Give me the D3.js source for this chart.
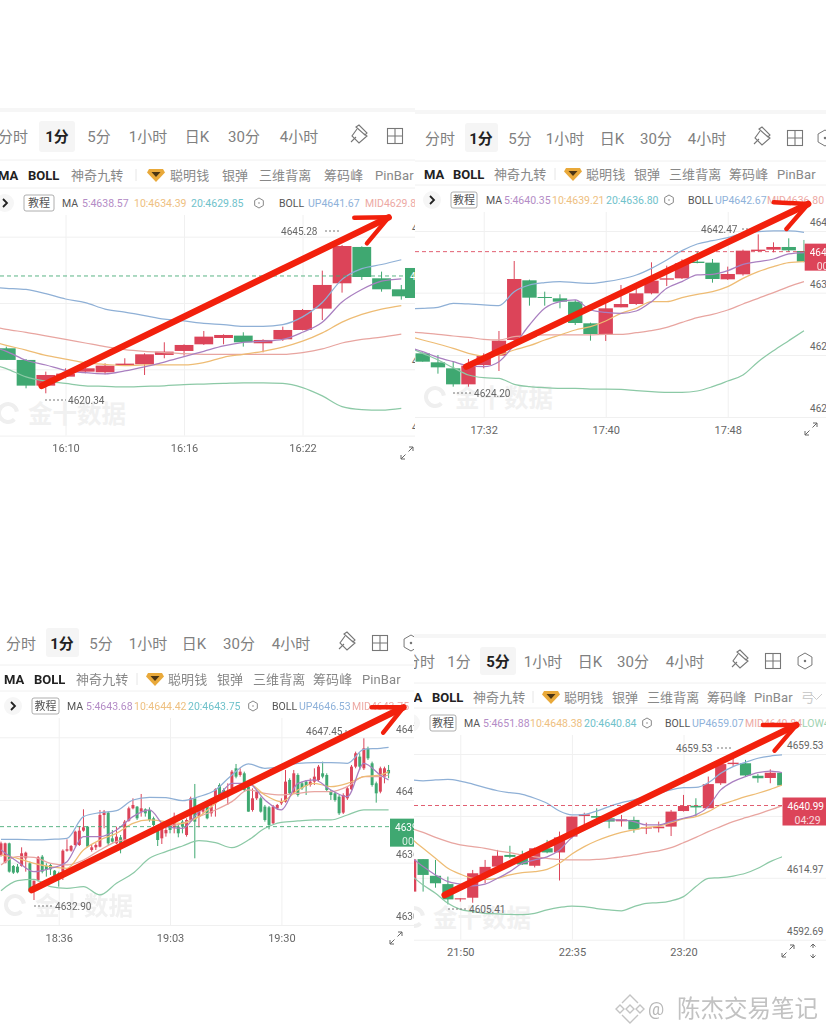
<!DOCTYPE html>
<html>
<head>
<meta charset="utf-8">
<title>K线截图拼图</title>
<style>
  html, body { margin: 0; padding: 0; background: #fff; }
  svg { display: block; filter: blur(0.35px); }
  text { font-family: Roboto, "Noto Sans CJK SC", sans-serif; }
  .grid line { stroke: #f0f0f0; stroke-width: 1; }
  .grid path, .lab path, .lab line { display: none; }
  .lab text { fill: #666; font-size: 11px; }
</style>
</head>
<body>
<svg id="chart" width="826" height="1034"></svg>
<script src="https://d3js.org/d3.v7.min.js"></script>
<script>
// ---- panel 1, 1 min, 16:xx ----
const p1Candles = [
  [4627.91,4628.19,4625.95,4625.95],[4625.95,4626.11,4621.18,4621.63],[4621.63,4623.98,4620.34,4623.42],
  [4623.14,4624.54,4622.86,4623.65],[4623.98,4625.78,4623.70,4624.54],[4623.87,4625.38,4623.53,4624.99],
  [4625.05,4626.23,4624.94,4625.33],[4625.22,4627.07,4623.42,4626.90],[4626.79,4628.92,4626.23,4627.35],
  [4627.46,4628.58,4626.67,4628.47],[4628.58,4630.82,4628.47,4629.87],[4629.64,4630.26,4628.58,4630.15],
  [4630.04,4630.60,4628.19,4628.92],[4628.75,4629.42,4627.23,4629.31],[4629.42,4631.55,4629.14,4630.99],
  [4630.99,4634.52,4630.93,4634.35],[4634.58,4640.97,4632.67,4638.56],[4638.84,4645.28,4637.27,4645.11],
  [4644.95,4645.06,4639.40,4639.90],[4639.68,4640.80,4637.43,4637.83],[4637.83,4638.56,4636.09,4636.65]
];
const p1LineIdx = d3.range(-1, 21);
const p1Up = [4638.2,4638.0,4637.8,4637.1,4636.2,4635.6,4634.5,4634.0,4633.4,4632.8,4632.5,4632.1,4631.9,4631.6,4631.6,4631.9,4633.2,4635.6,4639.5,4641.3,4642.0,4642.8];
const p1Mid = [4631.8,4631.1,4630.6,4630.0,4629.4,4628.8,4628.2,4627.7,4627.4,4627.2,4627.0,4626.9,4626.9,4626.9,4626.9,4626.9,4627.2,4627.8,4628.8,4629.4,4629.8,4630.3];
const p1Low = [4625.4,4624.5,4623.1,4622.4,4622.0,4621.6,4621.5,4621.4,4621.5,4621.6,4621.8,4621.9,4622.0,4622.1,4622.1,4622.0,4621.3,4619.9,4618.1,4617.6,4617.5,4617.8];
const p1Ma10 = [4629.3,4628.4,4627.6,4626.7,4626.1,4625.5,4625.2,4625.0,4625.1,4625.1,4625.1,4625.5,4626.4,4626.9,4627.4,4628.1,4629.1,4630.5,4632.3,4633.6,4634.5,4635.1];
const p1Ma5 = [4628.4,4627.4,4625.9,4625.1,4624.2,4623.8,4623.6,4624.1,4624.8,4625.6,4626.5,4627.4,4628.3,4628.9,4629.1,4629.4,4630.6,4632.3,4635.7,4637.8,4639.2,4639.6];
const p1Ticks = [4646.68, 4635.53, 4624.38, 4613.23];
const p1TimeIdx = [3, 9, 15];
const p1Times = ['16:10', '16:16', '16:22'];
const p1Legend = ['5:4638.57', '10:4634.39', '20:4629.85', 'UP4641.67', 'MID4629.85'];
const p1Arrow = [[1.79, 4621.6], [19.36, 4649.93], [17.62, 4649.88], [18.26, 4645.56]];
const p1Last = 4640.07;

// ---- panel 2, 1 min, 17:xx ----
const p2Candles = [
  [4628.2,4628.32,4627.2,4627.2],[4627.12,4628.0,4625.76,4626.52],[4626.4,4627.2,4624.2,4624.48],
  [4624.48,4627.52,4624.2,4626.72],[4626.8,4628.2,4626.4,4627.92],[4627.92,4630.88,4626.08,4629.72],
  [4629.8,4639.28,4629.6,4637.12],[4636.96,4637.04,4633.92,4634.88],[4634.96,4635.6,4633.92,4634.88],
  [4634.8,4635.28,4633.6,4634.4],[4634.4,4634.6,4631.6,4631.84],[4631.8,4631.88,4629.72,4630.52],
  [4630.48,4634.4,4629.68,4633.6],[4633.72,4636.4,4633.72,4634.12],[4634.12,4636.2,4634.0,4635.4],
  [4635.4,4639.12,4635.28,4636.92],[4637.04,4638.72,4636.28,4637.2],[4637.2,4639.48,4637.12,4639.0],
  [4639.2,4640.4,4639.0,4639.04],[4639.08,4639.52,4636.68,4637.12],[4637.08,4638.6,4637.0,4637.72],
  [4637.68,4640.64,4637.52,4640.52],[4640.48,4642.47,4640.4,4640.64],[4640.64,4641.52,4640.32,4640.96],
  [4640.96,4642.0,4640.4,4640.56],[4640.48,4641.8,4639.12,4639.2]
];
const p2LineIdx = d3.range(-1, 26);
const p2Up = [4633.5,4633.6,4633.72,4634.2,4634.12,4634.0,4633.92,4635.6,4636.4,4636.68,4636.8,4636.68,4636.6,4636.8,4637.12,4637.6,4638.4,4639.4,4640.52,4641.32,4641.72,4642.08,4642.6,4642.8,4642.88,4642.88,4642.72];
const p2Mid = [4630.8,4630.64,4630.48,4630.28,4630.12,4629.88,4629.8,4630.2,4630.32,4630.4,4630.4,4630.4,4630.4,4630.48,4630.48,4630.68,4630.92,4631.32,4631.92,4632.48,4632.88,4633.4,4634.12,4634.8,4635.48,4636.2,4636.8];
const p2Low = [4629.0,4628.2,4627.4,4626.48,4625.6,4625.28,4625.2,4624.48,4624.2,4624.08,4624.0,4624.0,4623.92,4623.92,4623.88,4623.72,4623.6,4623.52,4623.52,4623.68,4624.2,4624.88,4625.6,4627.2,4628.52,4629.72,4630.92];
const p2Ma10 = [4630.3,4629.8,4629.32,4628.8,4628.2,4627.88,4628.0,4628.6,4629.12,4629.8,4630.4,4631.0,4631.4,4632.08,4633.0,4633.6,4634.4,4634.4,4634.88,4635.28,4635.6,4636.2,4637.2,4638.0,4638.6,4639.08,4639.2];
const p2Ma5 = [4629.0,4628.4,4627.72,4627.2,4626.72,4626.6,4627.2,4629.2,4631.6,4633.6,4634.4,4634.6,4633.4,4633.12,4633.0,4633.28,4634.4,4636.0,4636.8,4637.6,4637.68,4638.12,4638.88,4639.2,4639.52,4640.12,4640.28];
const p2Ticks = [4642.88, 4635.48, 4628.00, 4620.56];
const p2TimeIdx = [4, 12, 20];
const p2Times = ['17:32', '17:40', '17:48'];
const p2Legend = ['5:4640.35', '10:4639.21', '20:4636.80', 'UP4642.67', 'MID4636.80'];
const p2Arrow = [[2.86, 4626.6], [25.27, 4646.12], [23.02, 4646.32], [23.85, 4643.12]];
const p2Last = 4640.4;

// ---- panel 3, 1 min, 18:xx-19:xx ----
const p3Candles = [
  [4636.95,4638.15,4636.8,4638.0],[4636.26,4638.06,4636.2,4638.0],[4638.0,4638.06,4635.36,4635.45],[4635.96,4636.05,4635.24,4635.36],
  [4635.9,4636.14,4635.3,4635.39],[4635.96,4637.64,4635.9,4637.1],[4636.65,4637.25,4635.45,4637.16],[4636.2,4636.35,4633.65,4633.65],
  [4633.74,4634.64,4632.9,4634.64],[4634.7,4636.86,4634.55,4636.74],[4636.8,4636.95,4635.3,4635.45],[4635.96,4636.2,4635.0,4635.6],
  [4636.05,4636.14,4635.15,4635.66],[4635.54,4635.6,4634.7,4635.0],[4635.3,4635.45,4634.1,4634.85],[4635.45,4637.46,4634.7,4637.34],
  [4637.34,4638.36,4637.25,4637.46],[4637.34,4637.85,4637.25,4637.76],[4637.85,4639.14,4637.7,4639.05],[4637.85,4639.56,4637.76,4639.14],
  [4639.14,4641.06,4639.05,4639.44],[4639.5,4639.56,4637.64,4637.7],[4637.4,4637.85,4637.25,4637.64],[4637.64,4638.0,4637.4,4637.85],
  [4637.7,4641.0,4637.64,4640.55],[4640.55,4641.0,4639.35,4640.85],[4640.76,4640.85,4637.85,4638.0],[4638.45,4639.2,4638.06,4638.15],
  [4638.0,4639.5,4637.94,4638.6],[4638.54,4638.75,4637.1,4637.94],[4638.3,4640.1,4638.15,4639.95],[4640.04,4641.3,4639.95,4641.15],
  [4641.15,4642.05,4641.06,4641.45],[4641.3,4641.36,4640.1,4640.25],[4640.85,4642.44,4640.4,4641.15],[4641.06,4641.15,4640.4,4640.7],
  [4641.0,4641.24,4639.95,4640.1],[4640.25,4640.4,4639.5,4639.65],[4639.35,4639.5,4637.76,4638.3],[4638.45,4639.5,4637.94,4639.35],
  [4638.9,4639.65,4638.6,4639.2],[4639.65,4639.8,4638.9,4639.2],[4639.44,4640.76,4638.9,4640.4],[4639.5,4639.65,4638.54,4638.9],
  [4639.95,4640.1,4638.9,4639.5],[4638.75,4640.25,4638.6,4640.1],[4640.1,4642.2,4639.95,4642.05],[4642.05,4643.34,4636.65,4639.95],
  [4640.4,4641.45,4639.44,4641.24],[4640.85,4641.6,4640.64,4641.45],[4641.45,4641.6,4640.16,4640.25],[4640.7,4641.45,4640.4,4641.3],
  [4641.6,4642.95,4640.4,4642.86],[4643.25,4643.4,4642.05,4642.2],[4642.8,4642.95,4642.35,4642.5],[4642.2,4643.4,4641.45,4642.65],
  [4642.95,4644.6,4642.8,4644.45],[4644.75,4645.14,4643.85,4644.0],[4644.15,4644.75,4644.0,4644.45],[4644.3,4644.45,4642.65,4642.8],
  [4643.1,4643.25,4640.85,4640.85],[4641.0,4642.95,4640.85,4642.05],[4642.05,4642.8,4641.9,4642.65],[4642.05,4642.2,4640.76,4640.85],
  [4641.3,4641.45,4639.95,4640.1],[4641.24,4641.36,4639.26,4639.65],[4639.8,4641.45,4639.74,4641.3],[4641.15,4641.54,4641.0,4641.45],
  [4641.6,4642.05,4641.45,4641.75],[4641.75,4644.6,4641.66,4643.55],[4643.7,4643.85,4642.35,4642.5],[4642.56,4644.6,4642.5,4644.3],
  [4644.15,4644.3,4642.2,4642.35],[4643.4,4643.55,4642.8,4642.95],[4643.55,4643.7,4642.35,4643.16],[4643.25,4643.85,4643.1,4643.55],
  [4643.55,4644.75,4643.25,4644.0],[4643.7,4645.05,4643.55,4644.9],[4644.3,4645.35,4643.85,4644.0],[4644.15,4644.3,4642.65,4642.8],
  [4642.65,4642.8,4641.9,4642.35],[4642.5,4642.65,4641.75,4641.9],[4642.2,4642.35,4640.55,4640.7],[4640.76,4642.5,4640.64,4642.35],
  [4642.05,4643.1,4641.9,4642.95],[4642.86,4645.05,4642.8,4644.9],[4644.9,4646.25,4644.75,4646.1],[4645.8,4646.1,4644.6,4644.9],
  [4644.75,4647.45,4644.6,4646.55],[4646.55,4646.7,4645.5,4645.65],[4645.2,4645.35,4643.1,4643.25],[4643.4,4643.55,4641.66,4642.5],
  [4642.65,4644.9,4642.5,4644.75],[4644.0,4644.9,4643.4,4644.75],[4644.6,4645.05,4643.85,4644.3]
];
const p3LineIdx = [0,4,8,12,16,20,24,28,32,36,40,44,48,52,56,60,64,68,72,76,80,84,88,92,94];
const p3Up = [4638.36,4638.36,4638.3,4638.36,4638.45,4640.4,4640.76,4640.94,4641.9,4642.14,4642.11,4641.84,4642.2,4642.8,4644.15,4645.14,4644.75,4644.9,4645.2,4645.26,4645.26,4645.2,4646.46,4646.55,4646.64];
const p3Mid = [4636.05,4636.8,4636.74,4636.2,4636.05,4636.5,4637.4,4638.15,4638.45,4639.2,4639.5,4639.8,4640.4,4641.0,4641.75,4642.8,4642.5,4642.35,4642.5,4642.65,4642.65,4643.1,4644.0,4644.0,4644.15];
const p3Low = [4633.74,4634.64,4634.76,4634.1,4633.95,4634.1,4633.35,4634.4,4635.3,4636.65,4637.25,4637.76,4638.24,4638.06,4637.61,4638.3,4639.35,4639.89,4640.01,4640.1,4640.1,4640.55,4641.0,4641.0,4641.0];
const p3Ma10 = [4636.95,4636.65,4636.2,4635.9,4635.75,4637.4,4638.3,4638.9,4639.8,4640.1,4639.95,4639.8,4640.4,4641.6,4642.8,4643.4,4642.35,4641.75,4642.8,4643.4,4643.1,4643.4,4644.0,4644.15,4644.45];
const p3Ma5 = [4637.4,4636.35,4635.45,4635.75,4636.35,4638.6,4638.6,4639.2,4640.4,4641.0,4639.5,4639.35,4640.85,4641.9,4643.4,4643.4,4641.9,4641.0,4643.4,4643.7,4642.8,4642.2,4645.2,4644.15,4643.7];
const p3Ticks = [4647.54, 4641.90, 4636.26, 4630.65];
const p3TimeIdx = [14, 41, 68];
const p3Times = ['18:36', '19:03', '19:30'];
const p3Legend = ['5:4643.68', '10:4644.42', '20:4643.75', 'UP4646.53', 'MID4643.75'];
const p3Arrow = [[7.44, 4633.8], [97.6, 4650.24], [89.9, 4650.24], [92.7, 4647.96]];
const p3Last = 4639.5;

// ---- panel 4, 5 min, 21:50-23:20 ----
const p4Candles = [
  [4610.0,4622.5,4609.4,4621.6],[4621.7,4621.7,4610.0,4616.0],[4615.7,4621.4,4611.4,4613.0],[4612.7,4615.4,4605.41,4607.2],
  [4607.2,4607.6,4606.4,4607.6],[4607.8,4617.8,4606.0,4616.6],[4616.2,4621.4,4613.0,4618.9],[4619.0,4625.0,4618.7,4622.9],
  [4623.2,4626.5,4622.0,4622.5],[4622.5,4624.7,4619.6,4619.8],[4619.3,4625.9,4618.7,4625.6],[4625.6,4628.6,4623.8,4624.1],
  [4624.1,4631.6,4614.0,4629.5],[4629.8,4637.0,4629.2,4637.0],[4637.2,4638.4,4633.4,4637.8],[4637.2,4640.0,4635.2,4636.6],
  [4636.4,4637.6,4632.8,4635.2],[4635.3,4637.6,4633.4,4636.0],[4635.8,4637.0,4631.2,4632.4],[4632.7,4634.8,4630.7,4633.1],
  [4632.8,4635.2,4631.3,4633.4],[4633.4,4639.4,4630.0,4638.8],[4639.0,4644.8,4638.8,4640.8],[4640.9,4643.6,4637.0,4640.3],
  [4640.0,4651.4,4640.0,4648.7],[4649.0,4658.0,4648.4,4655.9],[4655.9,4659.53,4655.0,4656.4],[4656.2,4657.4,4651.6,4651.8],
  [4651.7,4652.3,4649.2,4650.8],[4650.9,4654.0,4649.0,4652.8],[4652.8,4653.2,4648.0,4648.2]
];
const p4LineIdx = d3.range(0, 31);
const p4Up = [4650.2,4649.9,4650.2,4650.4,4649.8,4648.7,4647.4,4646.3,4645.6,4645.0,4643.6,4641.8,4639.0,4637.6,4637.8,4639.0,4640.6,4642.0,4643.0,4644.2,4645.4,4646.6,4647.4,4647.5,4649.2,4652.6,4655.0,4656.5,4658.0,4658.8,4659.2];
const p4Mid = [4632.8,4631.3,4629.5,4628.0,4626.8,4626.2,4625.6,4624.7,4624.0,4623.2,4622.5,4622.0,4621.6,4621.4,4621.4,4621.6,4622.0,4622.5,4623.2,4624.0,4624.7,4625.8,4627.6,4629.5,4631.6,4633.4,4635.2,4636.6,4637.9,4639.4,4641.0];
const p4Low = [4616.0,4612.4,4609.4,4605.8,4603.6,4602.8,4602.2,4602.0,4601.8,4601.7,4602.2,4603.4,4604.3,4604.8,4604.6,4603.9,4603.4,4603.1,4604.6,4605.8,4606.0,4606.7,4608.2,4611.8,4614.8,4615.0,4615.6,4616.6,4618.4,4620.8,4622.6];
const p4Ma10 = [4629.2,4625.6,4622.0,4618.4,4616.3,4614.8,4614.4,4614.8,4616.0,4616.8,4617.2,4618.0,4620.2,4623.5,4626.2,4628.3,4630.0,4631.3,4632.2,4633.1,4633.6,4634.8,4636.2,4637.0,4638.8,4641.2,4642.7,4644.2,4645.4,4646.8,4648.4];
const p4Ma5 = [4622.5,4619.0,4616.0,4613.6,4612.7,4612.1,4612.7,4614.8,4617.2,4620.2,4621.4,4622.5,4625.0,4629.5,4632.2,4634.3,4635.8,4635.8,4635.2,4634.0,4634.0,4635.2,4636.4,4637.6,4640.6,4646.6,4649.6,4651.4,4652.8,4653.4,4652.8];
const p4Ticks = [4659.53, 4637.25, 4614.97, 4592.69];
const p4TimeIdx = [4, 13, 22];
const p4Times = ['21:50', '22:35', '23:20'];
const p4Legend = ['5:4651.88', '10:4648.38', '20:4640.84', 'UP4659.07', 'MID4640.84', 'LOW4622.61'];
const p4Arrow = [[2.74, 4608.77], [31.1, 4669.97], [28.4, 4669.97], [29.35, 4660.73]];
const p4Last = 4640.99;

const tabNames = ['分时', '1分', '5分', '1小时', '日K', '30分', '4小时'];
const indicatorNames = ['MA', 'BOLL', '神奇九转', '聪明钱', '银弹', '三维背离', '筹码峰', 'PinBar'];

const RED = '#dc4459', GREEN = '#3fa871';
const lineColors = { up: '#8fb0d6', mid: '#e8a5a0', low: '#8cc9a6', ma10: '#eebc74', ma5: '#a97fc0' };
const legendColors = ['#b48cc6', '#eec081', '#70c2cb', '#8fb2da', '#eda9a4', '#9fd3b2'];

// layout only, everything in px
const panels = [
  { candles: p1Candles, lineIdx: p1LineIdx, up: p1Up, mid: p1Mid, low: p1Low, ma10: p1Ma10, ma5: p1Ma5,
    ticks: p1Ticks, timeIdx: p1TimeIdx, times: p1Times, legend: p1Legend, arrow: p1Arrow, last: p1Last,
    clipX: [0, 415], plotRight: 415, band: 108, bandH: 4,
    x: [[0, 6.3], [20, 401.3]], y: [[4620.34, 393.3], [4645.28, 245]], bodyRatio: 0.95,
    tabY: 136, activeTab: 1, tabBox: [39, 121, 36, 31], tabX: [13, 57, 99, 148, 197, 244, 299], icons: [359, 395],
    sep1: 160, indY: 175, indX: [-2, 28, 71, 170, 222, 259, 324, 375], indSep: 136, diamond: 156, sep2: 188,
    legY: 203, circle: 5, box: [24, 54], legX: [62, 82, 134, 191, 259, 279, 308, 365],
    chartTop: 215, labelX: 412, labelDy: -8,
    wm: [28, 423], logo: 8, hiNote: ['4645.28', 281, 231, 325, 340], loNote: ['4620.34', 68, 400, 45, 66],
    box2: { color: GREEN, x: 405, h: 30, text: ['4640.07', '00:31'] }, dash: GREEN, expand: [407, 453] },
  { candles: p2Candles, lineIdx: p2LineIdx, up: p2Up, mid: p2Mid, low: p2Low, ma10: p2Ma10, ma5: p2Ma5,
    ticks: p2Ticks, timeIdx: p2TimeIdx, times: p2Times, legend: p2Legend, arrow: p2Arrow, last: p2Last,
    clipX: [415, 826], plotRight: 804.7, band: 110, bandH: 4,
    x: [[0, 422.7], [25, 804]], y: [[4624.2, 386.67], [4642.47, 234.4]], bodyRatio: 0.94,
    tabY: 138, activeTab: 1, tabBox: [465, 123, 33, 29], tabX: [440, 481, 520, 565, 612, 656, 707], icons: [762, 795, 825],
    sep1: 161, indY: 174, indX: [424, 453, 494, 586, 634, 669, 729, 777], indSep: 555, diamond: 573, sep2: 185,
    legY: 200, circle: 432, box: [451, 477], legX: [486, 504, 552, 606, 669, 688, 715, 767],
    chartTop: 212, labelX: 810, labelDy: -8,
    wm: [455, 407], logo: 435, hiNote: ['4642.47', 701, 229, 742, 752], loNote: ['4624.20', 474, 393, 453, 473],
    box2: { color: RED, x: 804.7, h: 27, text: ['4640.40', '00:11'] }, dash: RED, expand: [811, 429] },
  { candles: p3Candles, lineIdx: p3LineIdx, up: p3Up, mid: p3Mid, low: p3Low, ma10: p3Ma10, ma5: p3Ma5,
    ticks: p3Ticks, timeIdx: p3TimeIdx, times: p3Times, legend: p3Legend, arrow: p3Arrow, last: p3Last,
    clipX: [0, 414], plotRight: 390.5, band: null,
    x: [[0, 1], [94, 388.6]], y: [[4632.9, 900], [4647.45, 738.3]], bodyRatio: 0.72,
    tabY: 643, activeTab: 1, tabBox: [46, 628, 33, 29], tabX: [21, 62, 101, 148, 194, 239, 291], icons: [347, 380, 411],
    sep1: 665, indY: 679, indX: [4, 34, 76, 168, 217, 253, 313, 362], indSep: 137, diamond: 155, sep2: 691,
    legY: 706, circle: 13, box: [32, 59], legX: [67, 86, 134, 188, 253, 272, 299, 352],
    chartTop: 718, labelX: 396, labelDy: -8,
    wm: [35, 915], logo: 15, hiNote: ['4647.45', 306, 731, 345, 352], loNote: ['4632.90', 55, 906, 34, 53],
    box2: { color: GREEN, x: 390, h: 28, text: ['4639.50', '00:18'] }, dash: GREEN, expand: [396, 938] },
  { candles: p4Candles, lineIdx: p4LineIdx, up: p4Up, mid: p4Mid, low: p4Low, ma10: p4Ma10, ma5: p4Ma5,
    ticks: p4Ticks, timeIdx: p4TimeIdx, times: p4Times, legend: p4Legend, arrow: p4Arrow, last: p4Last,
    clipX: [414, 826], plotRight: 782, band: 634, bandH: 4,
    x: [[0, 410.7], [30, 782.7]], y: [[4592.69, 939.7], [4659.53, 754]], bodyRatio: 0.9,
    tabY: 661, activeTab: 2, tabBox: [480, 647, 36, 28], tabX: [420, 459, 498, 543, 590, 633, 685], icons: [740, 773, 805],
    sep1: 683, indY: 697, indX: [402, 432, 473, 564, 612, 647, 707, 754], indSep: 533, diamond: 551, sep2: 708,
    legY: 723, circle: 411, box: [430, 456], legX: [464, 483, 530, 584, 647, 665, 692, 745, 802],
    chartTop: 735, labelX: 787, labelDy: -8, showTickIdx: [0, 2, 3],
    wm: [433, 927], logo: 414, hiNote: ['4659.53', 676, 748, 717, 732], loNote: ['4605.41', 469, 909, 448, 468],
    box2: { color: RED, x: 782.5, h: 28, text: ['4640.99', '04:29'], full: true }, dash: RED, expand: [788, 951], updown: 813 }
];

const svg = d3.select('#chart');
const defs = svg.append('defs');
const PRICE_W = 36.5;

function hammerIcon(g, cx, cy) {
  const s = g.append('g').attr('transform', `translate(${cx},${cy})`).attr('fill', 'none').attr('stroke', '#777').attr('stroke-width', 1.1);
  s.append('path').attr('d', 'M-3,-9 L0,-11 L8,-3 L6,-1 Z');
  s.append('path').attr('d', 'M-2,-7 L-7,0 L0,7 L8,0 L5,-2');
  s.append('path').attr('d', 'M-8,6 L-3,1');
}
function gridIcon(g, cx, cy) {
  const s = g.append('g').attr('transform', `translate(${cx},${cy})`).attr('fill', 'none').attr('stroke', '#777').attr('stroke-width', 1.1);
  s.append('rect').attr('x', -7.5).attr('y', -7.5).attr('width', 15).attr('height', 15);
  s.append('path').attr('d', 'M0,-7.5V7.5M-7.5,0H7.5');
}
function hexIcon(g, cx, cy, r, col) {
  const pts = d3.range(6).map(i => {
    const a = Math.PI / 3 * i - Math.PI / 2;
    return [cx + r * Math.cos(a), cy + r * Math.sin(a)];
  });
  g.append('polygon').attr('points', pts.join(' ')).attr('fill', 'none').attr('stroke', col).attr('stroke-width', 1);
  g.append('circle').attr('cx', cx).attr('cy', cy).attr('r', r * 0.16).attr('fill', col);
}
function expandIcon(g, cx, cy) {
  g.append('path').attr('fill', 'none').attr('stroke', '#666').attr('stroke-width', 1)
    .attr('d', `M${cx - 6},${cy + 6}L${cx - 1.5},${cy + 1.5}M${cx - 6},${cy + 2}V${cy + 6}H${cx - 2}M${cx + 6},${cy - 6}L${cx + 1.5},${cy - 1.5}M${cx + 2},${cy - 6}H${cx + 6}V${cy - 2}`);
}
// prices in the app are drawn a bit narrower than Roboto
function priceText(g, px, py, str, col, size) {
  return g.append('text').attr('x', px).attr('y', py).attr('font-size', size || 11).attr('fill', col)
    .attr('textLength', PRICE_W).attr('lengthAdjust', 'spacingAndGlyphs').text(str);
}

panels.forEach((p, pi) => {
  const clipId = 'clip' + pi, plotId = 'plot' + pi;
  const [cl, cr] = p.clipX;
  defs.append('clipPath').attr('id', clipId).append('rect').attr('x', cl).attr('y', 0).attr('width', cr - cl).attr('height', 1034);
  defs.append('clipPath').attr('id', plotId).append('rect').attr('x', cl).attr('y', 0).attr('width', p.plotRight - cl).attr('height', 1034);

  const root = svg.append('g').attr('clip-path', `url(#${clipId})`);
  root.append('rect').attr('x', cl).attr('y', p.tabBox[1] - 16).attr('width', cr - cl).attr('height', 350).attr('fill', '#fff');
  if (p.band) root.append('rect').attr('x', cl).attr('y', p.band).attr('width', cr - cl).attr('height', p.bandH).attr('fill', '#f6f6f6');

  // tab row
  root.append('rect').attr('x', p.tabBox[0]).attr('y', p.tabBox[1]).attr('width', p.tabBox[2]).attr('height', p.tabBox[3]).attr('rx', 3).attr('fill', '#f5f5f5');
  root.selectAll('.tab').data(tabNames).join('text')
    .attr('x', (d, i) => p.tabX[i]).attr('y', p.tabY + 5.5).attr('text-anchor', 'middle')
    .attr('font-size', 15).attr('font-weight', (d, i) => i === p.activeTab ? 700 : 400)
    .attr('fill', (d, i) => i === p.activeTab ? '#222' : '#808080').text(d => d);
  hammerIcon(root, p.icons[0], p.tabY);
  gridIcon(root, p.icons[1], p.tabY);
  if (p.icons[2]) hexIcon(root, p.icons[2], p.tabY, 8, '#777');
  root.append('line').attr('x1', cl).attr('x2', cr).attr('y1', p.sep1).attr('y2', p.sep1).attr('stroke', '#f0f0f0');

  // indicator row
  root.selectAll('.ind').data(indicatorNames).join('text')
    .attr('x', (d, i) => p.indX[i]).attr('y', p.indY + 4.5)
    .attr('font-size', 13).attr('font-weight', (d, i) => i < 2 ? 700 : 400)
    .attr('fill', (d, i) => i < 2 ? '#222' : '#888').attr('letter-spacing', (d, i) => i < 2 ? 0 : 0.1).text(d => d);
  root.append('line').attr('x1', p.indSep).attr('x2', p.indSep).attr('y1', p.indY - 6).attr('y2', p.indY + 6).attr('stroke', '#e6e6e6');
  root.append('path').attr('fill', '#e9a93a').attr('d', `M${p.diamond - 7},${p.indY - 6}h14l2,3.5l-9,9.5l-9,-9.5z`);
  root.append('path').attr('fill', '#4b3514').attr('d', `M${p.diamond - 4.5},${p.indY - 3}h9l-4.5,5z`);
  root.append('line').attr('x1', cl).attr('x2', cr).attr('y1', p.sep2).attr('y2', p.sep2).attr('stroke', '#f0f0f0');
  if (p.updown) {
    root.append('text').attr('x', 801).attr('y', p.indY + 4.5).attr('font-size', 13).attr('fill', '#ccc').text('弓');
    root.append('path').attr('fill', 'none').attr('stroke', '#ccc').attr('d', `M811,${p.indY - 3}l5.5,5.5l5.5,-5.5`);
  }

  // legend row
  root.append('circle').attr('cx', p.circle).attr('cy', p.legY).attr('r', 9).attr('fill', '#f6f6f6');
  root.append('path').attr('fill', 'none').attr('stroke', '#222').attr('stroke-width', 1.8).attr('d', `M${p.circle - 2},${p.legY - 4}l4,4l-4,4`);
  root.append('rect').attr('x', p.box[0]).attr('y', p.legY - 8).attr('width', p.box[1] - p.box[0]).attr('height', 16).attr('rx', 2)
    .attr('fill', '#fff').attr('stroke', '#999').attr('stroke-width', 0.8);
  root.append('text').attr('x', (p.box[0] + p.box[1]) / 2).attr('y', p.legY + 4).attr('text-anchor', 'middle').attr('font-size', 11).attr('fill', '#555').text('教程');
  const lx = p.legX;
  root.append('text').attr('x', lx[0]).attr('y', p.legY + 3.7).attr('font-size', 10.5).attr('fill', '#555').text('MA');
  root.append('text').attr('x', lx[5]).attr('y', p.legY + 3.7).attr('font-size', 10.5).attr('fill', '#555').text('BOLL');
  hexIcon(root, lx[4], p.legY, 5, '#888');
  const legPos = [lx[1], lx[2], lx[3], lx[6], lx[7], lx[8]];
  root.selectAll('.leg').data(p.legend).join('text')
    .attr('x', (d, i) => legPos[i]).attr('y', p.legY + 3.7).attr('font-size', 10.5)
    .attr('fill', (d, i) => legendColors[i]).text(d => d);

  // scales
  const x = d3.scaleLinear().domain([p.x[0][0], p.x[1][0]]).range([p.x[0][1], p.x[1][1]]);
  const y = d3.scaleLinear().domain([p.y[0][0], p.y[1][0]]).range([p.y[0][1], p.y[1][1]]);
  const bottom = y(p.ticks[3]);

  // grid through axes
  root.append('g').attr('class', 'grid').attr('transform', `translate(${cr},0)`)
    .call(d3.axisLeft(y).tickValues(p.ticks).tickSize(cr - cl).tickFormat(''));
  root.append('g').attr('class', 'grid').attr('transform', `translate(0,${bottom})`)
    .call(d3.axisBottom(x).tickValues(p.timeIdx).tickSize(-(bottom - p.chartTop)).tickFormat(''));

  // watermark
  root.append('text').attr('x', p.wm[0]).attr('y', p.wm[1]).attr('font-size', 24.5).attr('font-weight', 700).attr('fill', '#f1f1f1').text('金十数据');
  root.append('path').attr('fill', 'none').attr('stroke', '#efefef').attr('stroke-width', 4).attr('stroke-linecap', 'round')
    .attr('d', d3.arc().innerRadius(9).outerRadius(9).startAngle(Math.PI * 0.75).endAngle(Math.PI * 2.45)())
    .attr('transform', `translate(${p.logo},${p.wm[1] - 10})`);

  // y labels and time labels
  const show = p.showTickIdx ? p.showTickIdx.map(i => p.ticks[i]) : p.ticks;
  const yAxis = root.append('g').attr('class', 'lab').attr('transform', `translate(${p.labelX},0)`)
    .call(d3.axisRight(y).tickValues(show).tickSize(0).tickPadding(0).tickFormat(d3.format('.2f')));
  yAxis.selectAll('text').attr('dy', p.labelDy).attr('dominant-baseline', 'middle')
    .attr('textLength', PRICE_W).attr('lengthAdjust', 'spacingAndGlyphs');
  const xAxis = root.append('g').attr('class', 'lab').attr('transform', `translate(0,${bottom})`)
    .call(d3.axisBottom(x).tickValues(p.timeIdx).tickSize(0).tickPadding(9).tickFormat((d, i) => p.times[i]));

  // current price line
  const plot = root.append('g').attr('clip-path', `url(#${plotId})`);
  root.append('line').attr('x1', cl).attr('x2', p.box2.x).attr('y1', y(p.last)).attr('y2', y(p.last))
    .attr('stroke', p.dash).attr('stroke-width', 1).attr('stroke-dasharray', '4 3').attr('opacity', 0.85);

  // candles
  const step = Math.abs(x(1) - x(0)), bw = step * p.bodyRatio;
  const c = plot.selectAll('.c').data(p.candles).join('g').attr('fill', d => d[3] >= d[0] ? RED : GREEN).attr('stroke', d => d[3] >= d[0] ? RED : GREEN);
  c.append('line').attr('x1', (d, i) => x(i)).attr('x2', (d, i) => x(i)).attr('y1', d => y(d[1])).attr('y2', d => y(d[2])).attr('stroke-width', 1);
  c.append('rect').attr('x', (d, i) => x(i) - bw / 2).attr('width', bw).attr('stroke', 'none')
    .attr('y', d => y(Math.max(d[0], d[3])))
    .attr('height', d => Math.max(1, Math.abs(y(d[0]) - y(d[3]))));

  // bollinger and MA lines
  const line = d3.line().x((d, i) => x(p.lineIdx[i])).y(d => y(d)).curve(d3.curveMonotoneX);
  ['low', 'up', 'mid', 'ma10', 'ma5'].forEach(k => {
    plot.append('path').attr('d', line(p[k])).attr('fill', 'none').attr('stroke', lineColors[k]).attr('stroke-width', 1.25);
  });

  // price box
  const b = p.box2;
  root.append('rect').attr('x', b.x).attr('y', y(p.last) - 8).attr('width', cr - b.x).attr('height', b.h).attr('fill', b.color);
  priceText(root, b.x + 5, y(p.last) + 4, b.text[0], '#fff');
  root.append('text').attr('x', b.x + 12).attr('y', y(p.last) + 18).attr('font-size', 10.5).attr('fill', '#fff').attr('opacity', 0.8).text(b.text[1]);

  // high / low notes
  priceText(root, p.hiNote[1], p.hiNote[2] + 4, p.hiNote[0], '#666');
  root.append('line').attr('x1', p.hiNote[3]).attr('x2', p.hiNote[4]).attr('y1', p.hiNote[2]).attr('y2', p.hiNote[2]).attr('stroke', '#777').attr('stroke-dasharray', '2 2');
  priceText(root, p.loNote[1], p.loNote[2] + 4, p.loNote[0], '#666');
  root.append('line').attr('x1', p.loNote[3]).attr('x2', p.loNote[4]).attr('y1', p.loNote[2]).attr('y2', p.loNote[2]).attr('stroke', '#777').attr('stroke-dasharray', '2 2');

  expandIcon(root, p.expand[0], p.expand[1]);
  if (p.updown) {
    root.append('path').attr('fill', 'none').attr('stroke', '#666').attr('stroke-width', 1)
      .attr('d', `M${p.updown},${p.expand[1] - 7}v4M${p.updown - 2.5},${p.expand[1] - 4.5}l2.5,-2.5l2.5,2.5M${p.updown},${p.expand[1] + 3}v4M${p.updown - 2.5},${p.expand[1] + 4.5}l2.5,2.5l2.5,-2.5`);
  }

  p.xs = x; p.ys = y;
});

// red hand drawn arrows on top of every panel
panels.forEach(p => {
  const pt = a => [p.xs(a[0]), p.ys(a[1])];
  const a = svg.append('g').attr('fill', 'none').attr('stroke', '#f2200c').attr('stroke-linecap', 'round').attr('stroke-linejoin', 'round');
  a.append('path').attr('stroke-width', 6.5).attr('d', d3.line()([pt(p.arrow[0]), pt(p.arrow[1])]));
  a.append('path').attr('stroke-width', 4.5).attr('d', d3.line()([pt(p.arrow[2]), pt(p.arrow[1]), pt(p.arrow[3])]));
});

// site watermark, bottom right
const mark = svg.append('g');
mark.append('path').attr('fill', 'none').attr('stroke', '#c4c4c4').attr('stroke-width', 1.4)
  .attr('d', 'M616,1009l4,-4l4,4l-4,4zM636,1009l4,-4l4,4l-4,4zM622,1003l8,-8l8,8M622,1015l8,8l8,-8M626,1009l4,-4l4,4l-4,4z');
mark.append('text').attr('x', 648).attr('y', 1015).attr('font-size', 18).attr('fill', '#b8b8b8').text('@');
mark.append('text').attr('x', 677).attr('y', 1017).attr('font-size', 23.5).attr('fill', '#c2c2c2').text('陈杰交易笔记');
</script>
</body>
</html>
